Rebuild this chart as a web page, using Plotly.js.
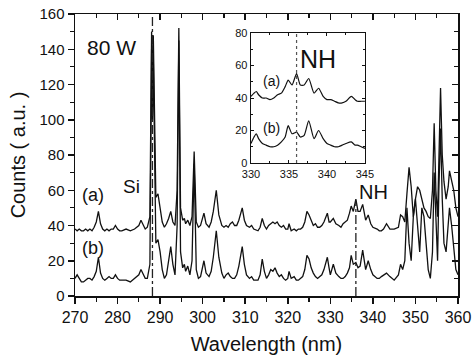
<!DOCTYPE html>
<html>
<head>
<meta charset="utf-8">
<script src="https://cdn.plot.ly/plotly-3.0.1.min.js"></script>
<style>html,body{margin:0;padding:0;background:#fff}#chart{width:474px;height:357px}</style>
</head>
<body>
<div id="chart"></div>
<script>
const wavelength = [270,270.5,271,271.5,272,272.5,273,273.5,274,274.5,275,275.5,276,276.5,277,277.5,278,278.5,279,279.5,280,280.5,281,282,283,284,284.5,285,285.5,286,286.5,287,287.6,288,288.2,288.4,289,289.5,290,290.5,291,291.5,292,292.5,293,293.5,294,294.4,294.8,295.3,295.7,296,296.5,297,297.5,298,298.5,299,299.5,300,300.3,300.8,301.5,302,302.5,303.2,303.8,304.5,305,305.5,306,306.5,307,307.5,308,308.5,309,309.3,309.8,310.3,311,311.5,312,313,313.5,314,314.5,315,315.5,316,316.5,317,317.5,318,318.5,319,319.5,320,320.3,320.8,321.5,322,322.5,323,323.5,324,324.5,325,325.5,326,326.5,327,327.5,328,328.5,329,329.3,329.7,330,330.7,331.3,332,332.5,333,333.5,334,334.5,334.9,335.4,336,336.5,337,337.6,338.3,338.9,339.5,340,341,341.5,342,342.5,343.2,344,345,346,346.5,347,347.5,348,348.5,349,349.5,350,350.5,351,351.5,352,352.5,353,353.5,354,354.4,354.8,355.2,355.5,355.9,356.3,356.7,357.2,357.7,358,358.5,359,359.5,360];
const seriesA = [38,37,38,37,37,38,37,38,37,39,42,48,41,38,37,38,37,38,38,40,38,37,37,38,37,38,39,40,43,40,38,39,45,150,110,148,56,58,50,42,39,41,44,48,42,40,60,152,50,43,44,41,43,40,45,82,42,39,40,45,47,41,39,42,48,60,46,40,39,40,39,41,42,40,40,43,48,50,43,40,39,40,38,37,39,44,40,38,40,41,42,41,42,40,39,40,38,38,41,37,38,37,38,38,39,42,48,46,43,40,41,39,39,40,42,46,47,42,42,44,41,40,39,41,42,43,47,51,48,55,48,48,52,43,46,41,39,38,37,37,38,41,38,38,39,46,45,42,58,73,62,45,55,62,60,55,50,48,45,44,60,98,60,45,80,118,80,65,55,62,71,66,60,50,45];
const seriesB = [10,12,10,8,8,9,10,10,9,11,14,22,13,10,9,10,11,10,10,12,10,9,9,9,8,10,11,12,15,12,10,10,18,140,100,135,30,32,25,15,10,12,20,28,18,12,40,145,25,16,18,14,17,12,20,75,15,10,11,17,20,13,11,14,22,37,22,13,10,12,13,11,10,10,12,17,25,28,18,12,10,11,9,9,12,21,14,10,12,15,14,16,13,11,12,10,9,10,14,10,11,9,9,10,11,15,23,21,16,13,11,10,11,12,15,20,22,16,12,18,13,11,10,10,11,13,16,23,18,19,16,17,26,15,20,15,12,10,10,11,12,13,11,9,12,18,15,20,50,30,20,45,55,40,25,50,45,30,15,10,25,70,40,20,60,95,55,30,25,45,50,40,25,15,12];

const insetWl = [330,330.4,330.7,331,331.5,332,332.5,333,333.5,334,334.5,334.9,335.4,336,336.5,337,337.6,338.3,338.9,339.5,340,340.5,341,341.5,342,342.5,343.2,343.7,344,344.5,345];
const insetA = [41,43,44,42,40,40,39,40,42,43,47,51,48,55,48,48,52,43,46,41,39,39,38,37,37,38,41,39,38,38,38];
const insetB = [12,16,18,15,12,11,10,10,11,13,16,23,18,19,16,17,26,15,20,15,12,11,10,10,11,12,13,11,11,10,9];

const siLine = 288.2;
const nhLine = 336;

const FONT = 'Liberation Sans, Arial, sans-serif';
const lineStyle = {color: '#111', width: 1.3};

const traces = [
  {x: wavelength, y: seriesA, type: 'scatter', mode: 'lines', line: lineStyle, xaxis: 'x', yaxis: 'y', hoverinfo: 'skip'},
  {x: wavelength, y: seriesB, type: 'scatter', mode: 'lines', line: lineStyle, xaxis: 'x', yaxis: 'y', hoverinfo: 'skip'},
  {x: [270], y: [0], type: 'scatter', mode: 'markers', marker: {opacity: 0}, xaxis: 'x2', yaxis: 'y2', hoverinfo: 'skip'},
  {x: insetWl, y: insetA, type: 'scatter', mode: 'lines', line: {color: '#111', width: 1.2, shape: 'spline', smoothing: 0.6}, xaxis: 'x3', yaxis: 'y3', hoverinfo: 'skip'},
  {x: insetWl, y: insetB, type: 'scatter', mode: 'lines', line: {color: '#111', width: 1.2, shape: 'spline', smoothing: 0.6}, xaxis: 'x3', yaxis: 'y3', hoverinfo: 'skip'},
  {x: [330], y: [0], type: 'scatter', mode: 'markers', marker: {opacity: 0}, xaxis: 'x4', yaxis: 'y4', hoverinfo: 'skip'}
];

const insetDomX = [0.4595, 0.757];
const insetDomY = [0.4716, 0.9326];

function ann(text, px, py, size) {
  return {text: text, xref: 'paper', yref: 'paper', x: (px - 75) / 383, y: (296 - py) / 282,
    xanchor: 'center', yanchor: 'middle', showarrow: false, font: {size: size, family: FONT, color: '#111'}};
}

const layout = {
  width: 474, height: 357,
  margin: {l: 75, r: 16, t: 14, b: 61},
  paper_bgcolor: '#fff', plot_bgcolor: '#fff',
  showlegend: false,
  font: {family: FONT, color: '#111'},
  xaxis: {
    domain: [0, 1], range: [270, 360], anchor: 'y',
    tick0: 270, dtick: 10, ticks: 'outside', ticklen: 6, tickwidth: 1.5, tickcolor: '#111',
    minor: {dtick: 5, ticks: 'outside', ticklen: 4, tickwidth: 1.2, tickcolor: '#111'},
    showline: true, linewidth: 1.5, linecolor: '#111', mirror: true,
    showgrid: false, zeroline: false,
    tickfont: {size: 16, family: FONT},
    title: {text: 'Wavelength (nm)', font: {size: 20, family: FONT}, standoff: 12}
  },
  yaxis: {
    domain: [0, 1], range: [0, 160], anchor: 'x',
    tick0: 0, dtick: 20, ticks: 'outside', ticklen: 6, tickwidth: 1.5, tickcolor: '#111',
    minor: {dtick: 10, ticks: 'outside', ticklen: 4, tickwidth: 1.2, tickcolor: '#111'},
    showline: true, linewidth: 1.5, linecolor: '#111', mirror: true,
    showgrid: false, zeroline: false,
    tickfont: {size: 15, family: FONT},
    title: {text: 'Counts ( a.u. )', font: {size: 20, family: FONT}, standoff: 8}
  },
  xaxis2: {
    overlaying: 'x', side: 'top', anchor: 'y', range: [270, 360],
    tick0: 270, dtick: 10, ticks: 'inside', ticklen: 6, tickwidth: 1.5, tickcolor: '#111',
    minor: {dtick: 5, ticks: 'inside', ticklen: 4, tickwidth: 1.2, tickcolor: '#111'},
    showticklabels: false, showgrid: false, zeroline: false, showline: false
  },
  yaxis2: {
    overlaying: 'y', side: 'right', anchor: 'x', range: [0, 160],
    tick0: 0, dtick: 20, ticks: 'inside', ticklen: 6, tickwidth: 1.5, tickcolor: '#111',
    minor: {dtick: 10, ticks: 'inside', ticklen: 4, tickwidth: 1.2, tickcolor: '#111'},
    showticklabels: false, showgrid: false, zeroline: false, showline: false
  },
  xaxis3: {
    domain: insetDomX, range: [330, 345], anchor: 'y3',
    tick0: 330, dtick: 5, ticks: 'inside', ticklen: 3, tickwidth: 1, tickcolor: '#111',
    minor: {dtick: 2.5, ticks: 'inside', ticklen: 2, tickwidth: 1, tickcolor: '#111'},
    showline: true, linewidth: 1.3, linecolor: '#111', mirror: true,
    showgrid: false, zeroline: false,
    tickfont: {size: 11, family: FONT}
  },
  yaxis3: {
    domain: insetDomY, range: [0, 80], anchor: 'x3',
    tick0: 0, dtick: 20, ticks: 'inside', ticklen: 3, tickwidth: 1, tickcolor: '#111',
    minor: {dtick: 10, ticks: 'inside', ticklen: 2, tickwidth: 1, tickcolor: '#111'},
    showline: true, linewidth: 1.3, linecolor: '#111', mirror: true,
    showgrid: false, zeroline: false,
    tickfont: {size: 11, family: FONT}
  },
  xaxis4: {
    overlaying: 'x3', side: 'top', anchor: 'y3', range: [330, 345],
    tick0: 330, dtick: 5, ticks: 'inside', ticklen: 3, tickwidth: 1, tickcolor: '#111',
    minor: {dtick: 2.5, ticks: 'inside', ticklen: 2, tickwidth: 1, tickcolor: '#111'},
    showticklabels: false, showgrid: false, zeroline: false, showline: false
  },
  yaxis4: {
    overlaying: 'y3', side: 'right', anchor: 'x3', range: [0, 80],
    tick0: 0, dtick: 20, ticks: 'inside', ticklen: 3, tickwidth: 1, tickcolor: '#111',
    minor: {dtick: 10, ticks: 'inside', ticklen: 2, tickwidth: 1, tickcolor: '#111'},
    showticklabels: false, showgrid: false, zeroline: false, showline: false
  },
  shapes: [
    {type: 'rect', xref: 'paper', yref: 'paper', x0: insetDomX[0], x1: insetDomX[1], y0: insetDomY[0], y1: insetDomY[1], fillcolor: '#fff', line: {width: 0}, layer: 'below'},
    {type: 'line', xref: 'x', yref: 'y', x0: siLine, x1: siLine, y0: 0, y1: 160, line: {color: '#222', width: 1.3, dash: 'dashdot'}},
    {type: 'line', xref: 'x', yref: 'y', x0: nhLine, x1: nhLine, y0: 0, y1: 54, line: {color: '#222', width: 1.3, dash: 'dashdot'}},
    {type: 'line', xref: 'x3', yref: 'y3', x0: nhLine, x1: nhLine, y0: 0, y1: 80, line: {color: '#555', width: 1.2, dash: 'dot'}}
  ],
  annotations: [
    ann('80 W', 111, 47, 21),
    ann('Si', 131, 187, 19),
    ann('(a)', 93, 195, 18),
    ann('(b)', 93, 248, 18),
    ann('NH', 373, 192, 20),
    ann('NH', 318, 59, 25),
    ann('(a)', 271, 81, 14),
    ann('(b)', 271, 128, 14)
  ]
};

Plotly.newPlot('chart', traces, layout, {staticPlot: true, displayModeBar: false});
</script>
</body>
</html>
